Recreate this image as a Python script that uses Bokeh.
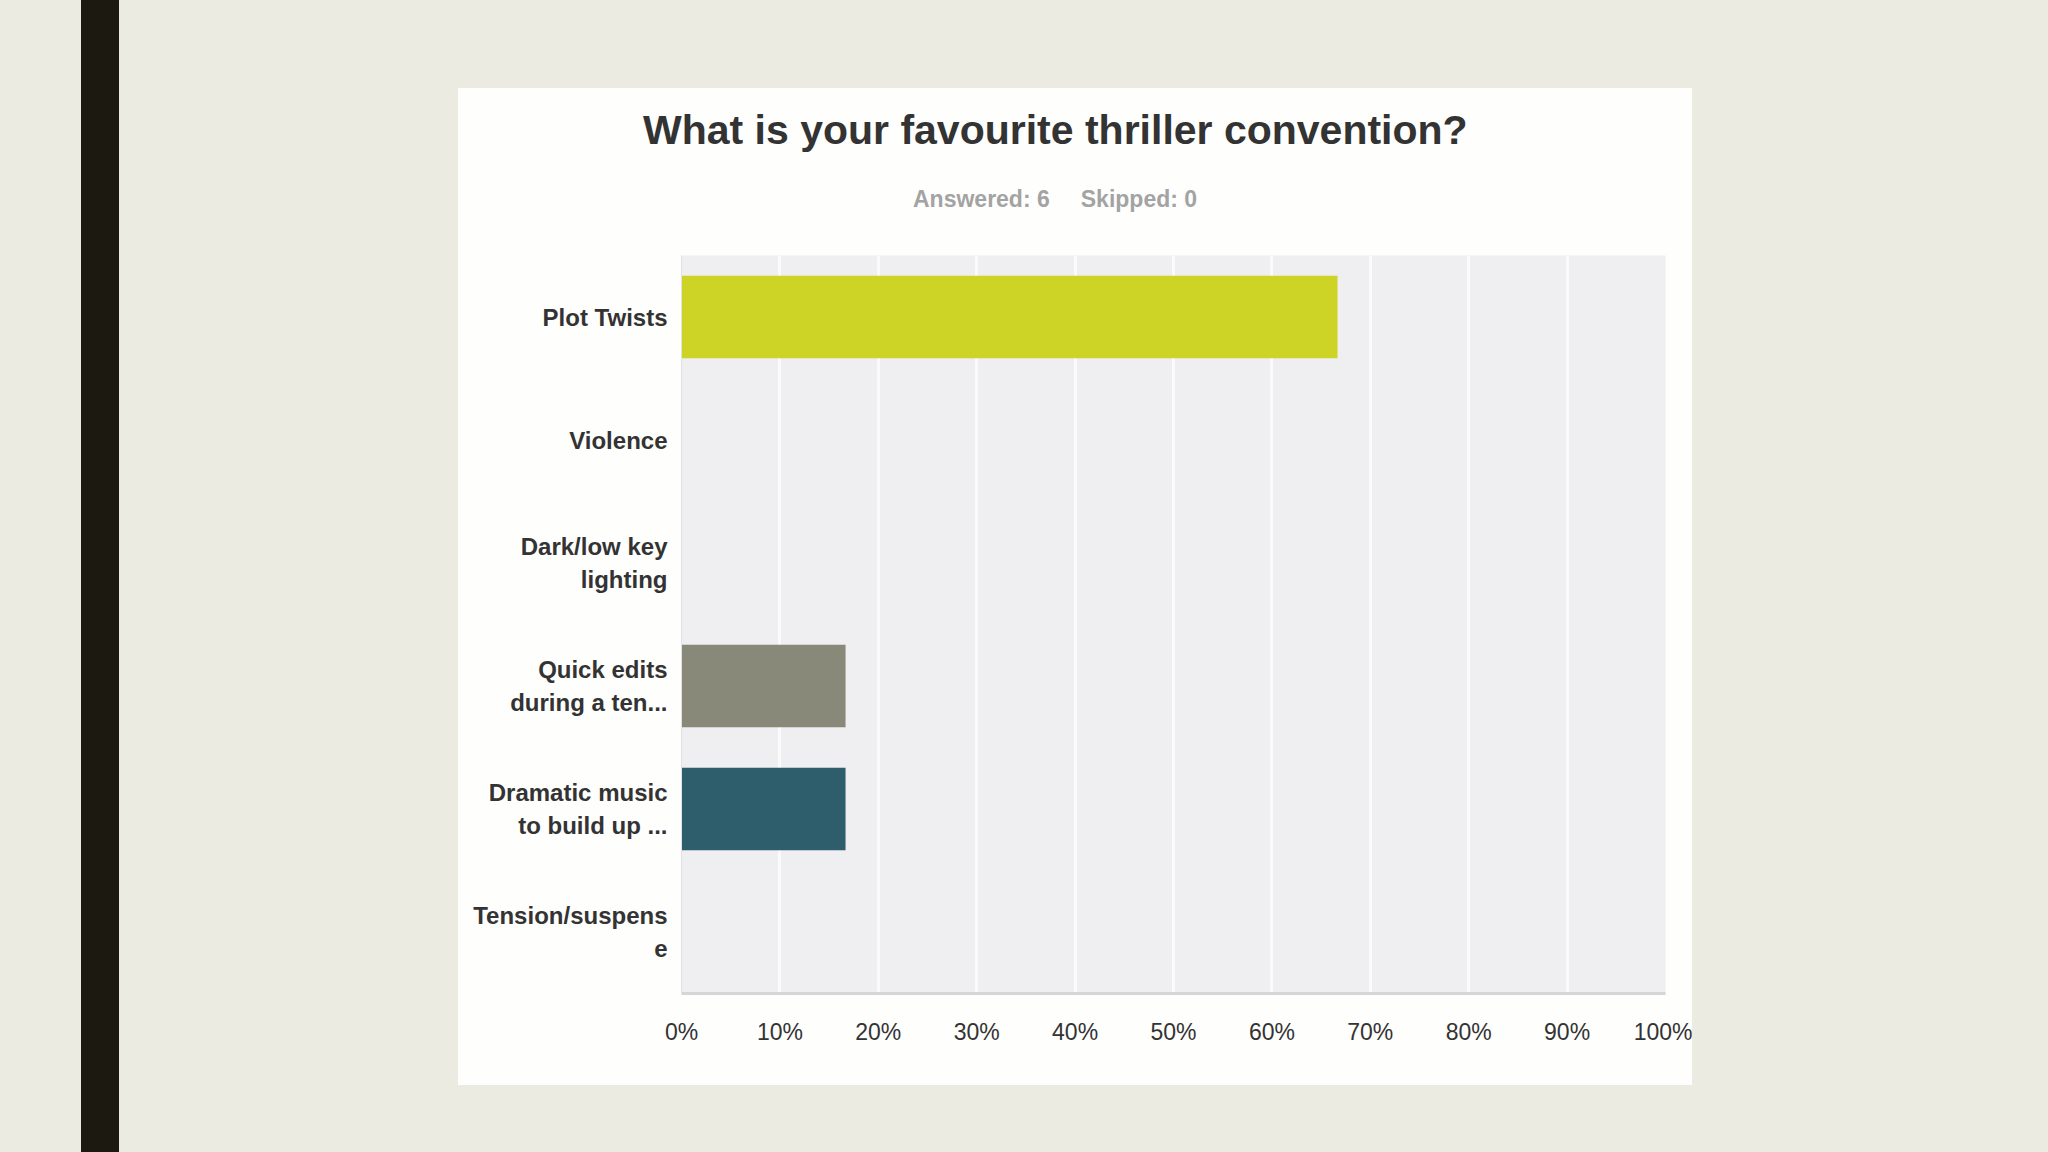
from bokeh.plotting import figure
from bokeh.models import (FactorRange, Range1d, FixedTicker, PrintfTickFormatter,
                          Div, Spacer, ColumnDataSource)
from bokeh.layouts import row, column
from bokeh.embed import file_html
from bokeh.resources import INLINE

# ---- data ----
categories = ["Plot Twists", "Violence", "Dark/low key\nlighting",
              "Quick edits\nduring a ten...", "Dramatic music\nto build up ...",
              "Tension/suspens\ne"]
percent = [66.67, 0.0, 0.0, 16.67, 16.67, 0.0]
bar_colors = ["#CED426", "#CED426", "#CED426", "#89897A", "#2E5E6B", "#CED426"]
x_ticks = [0, 10, 20, 30, 40, 50, 60, 70, 80, 90, 100]
title_text = "What is your favourite thriller convention?"
answered_text = "Answered: 6"
skipped_text = "Skipped: 0"

FONT = "Liberation Sans"
PAGE_BG = "#ECEBE2"
CARD_BG = "#FEFEFD"

src = ColumnDataSource(dict(cat=categories, pct=percent, color=bar_colors))

title_div = Div(
    text=('<div style="padding:22px 0 0 185px;font-family:\'%s\';font-size:41px;'
          'line-height:41px;font-weight:bold;color:#333333;white-space:nowrap;">%s</div>'
          % (FONT, title_text)),
    width=1234, height=80, margin=0, styles={"background-color": CARD_BG})
sub_div = Div(
    text=('<div style="padding:20px 0 0 455px;font-family:\'%s\';font-size:23px;'
          'line-height:23px;font-weight:bold;color:#A3A3A3;white-space:nowrap;">'
          '%s<span style="display:inline-block;width:31px;"></span>%s</div>'
          % (FONT, answered_text, skipped_text)),
    width=1234, height=52, margin=0, styles={"background-color": CARD_BG})

p = figure(width=1234, height=865,
           y_range=FactorRange(factors=list(reversed(categories))),
           x_range=Range1d(0, 100),
           output_backend="svg", toolbar_location=None,
           min_border_left=223, min_border_right=27,
           min_border_top=35, min_border_bottom=92,
           background_fill_color="#EFEEF0", border_fill_color=CARD_BG,
           outline_line_color=None, margin=0)

p.hbar(y="cat", left=0, right="pct", height=0.67, fill_color="color",
       line_color=None, source=src)

xa = p.xaxis[0]
xa.ticker = FixedTicker(ticks=x_ticks)
xa.formatter = PrintfTickFormatter(format="%d%%")
xa.major_label_text_font = FONT
xa.major_label_text_font_size = "23px"
xa.major_label_text_color = "#333333"
xa.major_label_standoff = 19
xa.major_tick_line_color = None
xa.minor_tick_line_color = None
xa.axis_line_color = "#D6D6D9"
xa.axis_line_width = 3

ya = p.yaxis[0]
ya.major_label_text_font = FONT
ya.major_label_text_font_size = "24px"
ya.major_label_text_font_style = "bold"
ya.major_label_text_color = "#333333"
ya.major_label_standoff = 8
ya.major_tick_line_color = None
ya.minor_tick_line_color = None
ya.axis_line_color = "#E2E2E4"
ya.axis_line_width = 1

p.xgrid.grid_line_color = "#FAFAFB"
p.xgrid.grid_line_width = 3
p.ygrid.grid_line_color = None

card = column(title_div, sub_div, p, spacing=0, margin=0, width=1234, height=997,
              styles={"background-color": CARD_BG})

layout = row(
    Spacer(width=81, height=1152, margin=0),
    Spacer(width=38, height=1152, margin=0, styles={"background-color": "#1C1A10"}),
    Spacer(width=339, height=1152, margin=0),
    column(Spacer(width=1234, height=88, margin=0), card, spacing=0, margin=0),
    styles={"background-color": PAGE_BG},
    width=2048, height=1152, spacing=0, margin=0,
)

html = file_html(layout, INLINE)
html = html.replace("</head>", "<style>html,body{background-color:%s;}</style></head>" % PAGE_BG, 1)
open("out.html", "w").write(html)
